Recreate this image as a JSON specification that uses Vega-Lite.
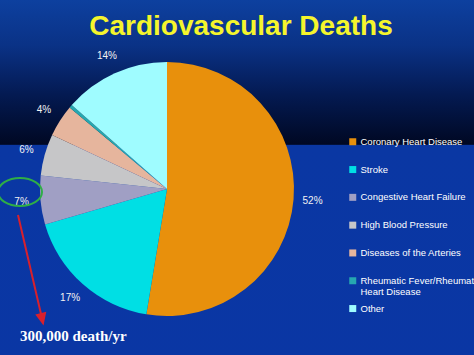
{
  "$schema": "https://vega.github.io/schema/vega-lite/v6.json",
  "width": 614,
  "height": 378,
  "autosize": {"type": "none"},
  "padding": {"left": -140, "top": 0, "right": 0, "bottom": -23},
  "background": "#0a37a3",
  "view": {
    "stroke": null,
    "fill": {
      "gradient": "linear", "x1": 0, "y1": 0, "x2": 0, "y2": 1,
      "stops": [
        {"offset": 0, "color": "#0d409f"},
        {"offset": 0.12, "color": "#0a3286"},
        {"offset": 0.25, "color": "#041a52"},
        {"offset": 0.382, "color": "#000823"},
        {"offset": 0.3836, "color": "#0a37a3"},
        {"offset": 1, "color": "#0a36a4"}
      ]
    }
  },
  "title": {
    "text": "Cardiovascular Deaths",
    "font": "Liberation Sans, Arial",
    "fontWeight": "bold",
    "fontSize": 28,
    "color": "#f5f52c",
    "anchor": "middle",
    "frame": "group",
    "offset": -41,
    "dx": 74
  },
  "config": {"font": "Liberation Sans"},
  "data": {
    "values": [
      {"cause": "Coronary Heart Disease", "value": 52.6, "label": "52%", "order": 1},
      {"cause": "Stroke", "value": 17.9, "label": "17%", "order": 2},
      {"cause": "Congestive Heart Failure", "value": 6.2, "label": "7%", "order": 3},
      {"cause": "High Blood Pressure", "value": 5.3, "label": "6%", "order": 4},
      {"cause": "Diseases of the Arteries", "value": 4.1, "label": "4%", "order": 5},
      {"cause": "Rheumatic Fever/Rheumatic Heart Disease", "value": 0.4, "label": "", "order": 6},
      {"cause": "Other", "value": 13.5, "label": "14%", "order": 7}
    ]
  },
  "layer": [
    {
      "mark": {"type": "arc", "outerRadius": 127, "stroke": null},
      "encoding": {
        "theta": {"field": "value", "type": "quantitative", "stack": true},
        "order": {"field": "order", "type": "quantitative"},
        "color": {
          "field": "cause",
          "type": "nominal",
          "scale": {
            "domain": ["Coronary Heart Disease", "Stroke", "Congestive Heart Failure", "High Blood Pressure", "Diseases of the Arteries", "Rheumatic Fever/Rheumatic Heart Disease", "Other"],
            "range": ["#e8900c", "#00dfe4", "#a09fc4", "#c6c6c8", "#e6b59d", "#26a8b0", "#9ffcff"]
          },
          "legend": {
            "orient": "none",
            "direction": "vertical",
            "legendX": 488,
            "legendY": 137,
            "title": null,
            "padding": 0,
            "symbolType": "square",
            "symbolSize": 49,
            "symbolStrokeWidth": 0,
            "symbolOpacity": 1,
            "labelFont": "Liberation Sans, Arial",
            "labelFontSize": 9.5,
            "labelColor": "#ffffff",
            "labelLimit": 400,
            "labelOffset": 3,
            "rowPadding": 5.8,
            "labelExpr": "datum.label == 'Rheumatic Fever/Rheumatic Heart Disease' ? ['Rheumatic Fever/Rheumatic', 'Heart Disease'] : [datum.label, '']"
          }
        }
      }
    },
    {
      "mark": {"type": "text", "radius": 146, "fontSize": 10, "color": "#f2f2f2", "font": "Liberation Sans, Arial"},
      "encoding": {
        "theta": {"field": "value", "type": "quantitative", "stack": true},
        "order": {"field": "order", "type": "quantitative"},
        "text": {"field": "label", "type": "nominal"}
      }
    },
    {
      "data": {"values": [{"note": "300,000 death/yr"}]},
      "mark": {"type": "text", "align": "left", "baseline": "alphabetic", "dx": -147, "dy": 152, "font": "Liberation Serif", "fontWeight": "bold", "fontSize": 15, "color": "#ffffff"},
      "encoding": {"text": {"field": "note", "type": "nominal"}}
    },
    {
      "data": {"values": [{"note": "7% highlight"}]},
      "mark": {"type": "point", "shape": "M-169,3 A22,14 0 1,0 -125,3 A22,14 0 1,0 -169,3 Z", "size": 4, "filled": false, "stroke": "#2fae46", "strokeWidth": 2, "opacity": 1},
      "encoding": {}
    },
    {
      "data": {"values": [{"note": "arrow"}]},
      "mark": {"type": "point", "shape": "M-149,26 L-126,125 M-122,124 L-124,134 L-130,126 Z", "size": 4, "filled": true, "fill": "#d8202c", "stroke": "#d8202c", "strokeWidth": 2, "opacity": 1},
      "encoding": {}
    }
  ]
}
